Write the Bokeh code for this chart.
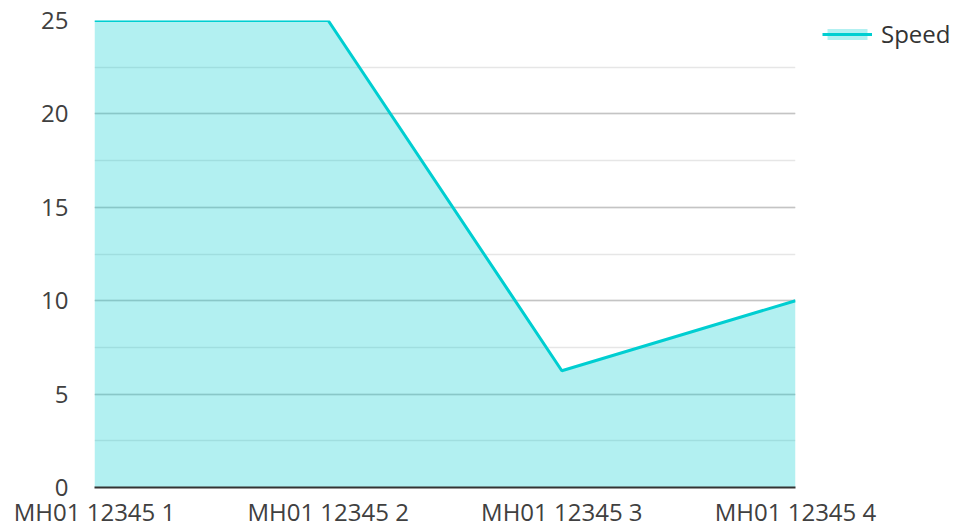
from bokeh.plotting import figure
from bokeh.models import (ColumnDataSource, Legend, LegendItem, FixedTicker,
                          SingleIntervalTicker, Range1d)
from bokeh.embed import file_html
from bokeh.resources import INLINE

categories = ["MH01 12345 1", "MH01 12345 2", "MH01 12345 3", "MH01 12345 4"]
speed = [25, 25, 6.25, 10]

xs = list(range(len(categories)))
src = ColumnDataSource(dict(x=xs, y=speed, y0=[0] * len(xs)))

p = figure(frame_width=701, frame_height=467,
           min_border_left=94, min_border_top=20, min_border_bottom=40,
           min_border_right=158,
           output_backend="svg", toolbar_location=None,
           x_range=Range1d(0, len(xs) - 1), y_range=Range1d(0, 25))
p.outline_line_color = None
p.background_fill_color = "white"
p.border_fill_color = "white"

area = p.varea(x="x", y1="y0", y2="y", source=src,
               fill_color="#00CED1", fill_alpha=0.3)
line = p.line(x="x", y="y", source=src, line_color="#00CED1", line_width=3)

font = "Open Sans"
# x axis
p.xaxis.ticker = FixedTicker(ticks=xs)
p.xaxis.major_label_overrides = {i: c for i, c in enumerate(categories)}
p.xaxis.major_tick_line_color = None
p.xaxis.minor_tick_line_color = None
p.xaxis.axis_line_color = "#333333"
p.xaxis.axis_line_width = 2
p.xaxis.major_label_text_font = font
p.xaxis.major_label_text_font_size = "24px"
p.xaxis.major_label_text_color = "#404040"
p.xaxis.major_label_standoff = 1
p.xgrid.grid_line_color = None

# y axis
p.yaxis.ticker = SingleIntervalTicker(interval=5, num_minor_ticks=2)
p.yaxis.axis_line_color = None
p.yaxis.major_tick_line_color = None
p.yaxis.minor_tick_line_color = None
p.yaxis.major_label_text_font = font
p.yaxis.major_label_text_font_size = "24px"
p.yaxis.major_label_text_color = "#404040"
p.yaxis.major_label_standoff = 20
p.ygrid.grid_line_color = "#c4c4c4"
p.ygrid.grid_line_width = 1.5
p.ygrid.minor_grid_line_color = "#e6e6e6"
p.ygrid.minor_grid_line_width = 1.5

legend = Legend(items=[LegendItem(label="Speed", renderers=[area, line])],
                location=(27, 437), orientation="vertical",
                border_line_color=None, background_fill_alpha=0,
                glyph_width=50, glyph_height=14, label_standoff=9,
                label_text_font=font, label_text_font_size="24px",
                label_text_color="#333333", margin=0, padding=0)
p.add_layout(legend, "right")

open("out.html", "w").write(file_html(p, INLINE))
